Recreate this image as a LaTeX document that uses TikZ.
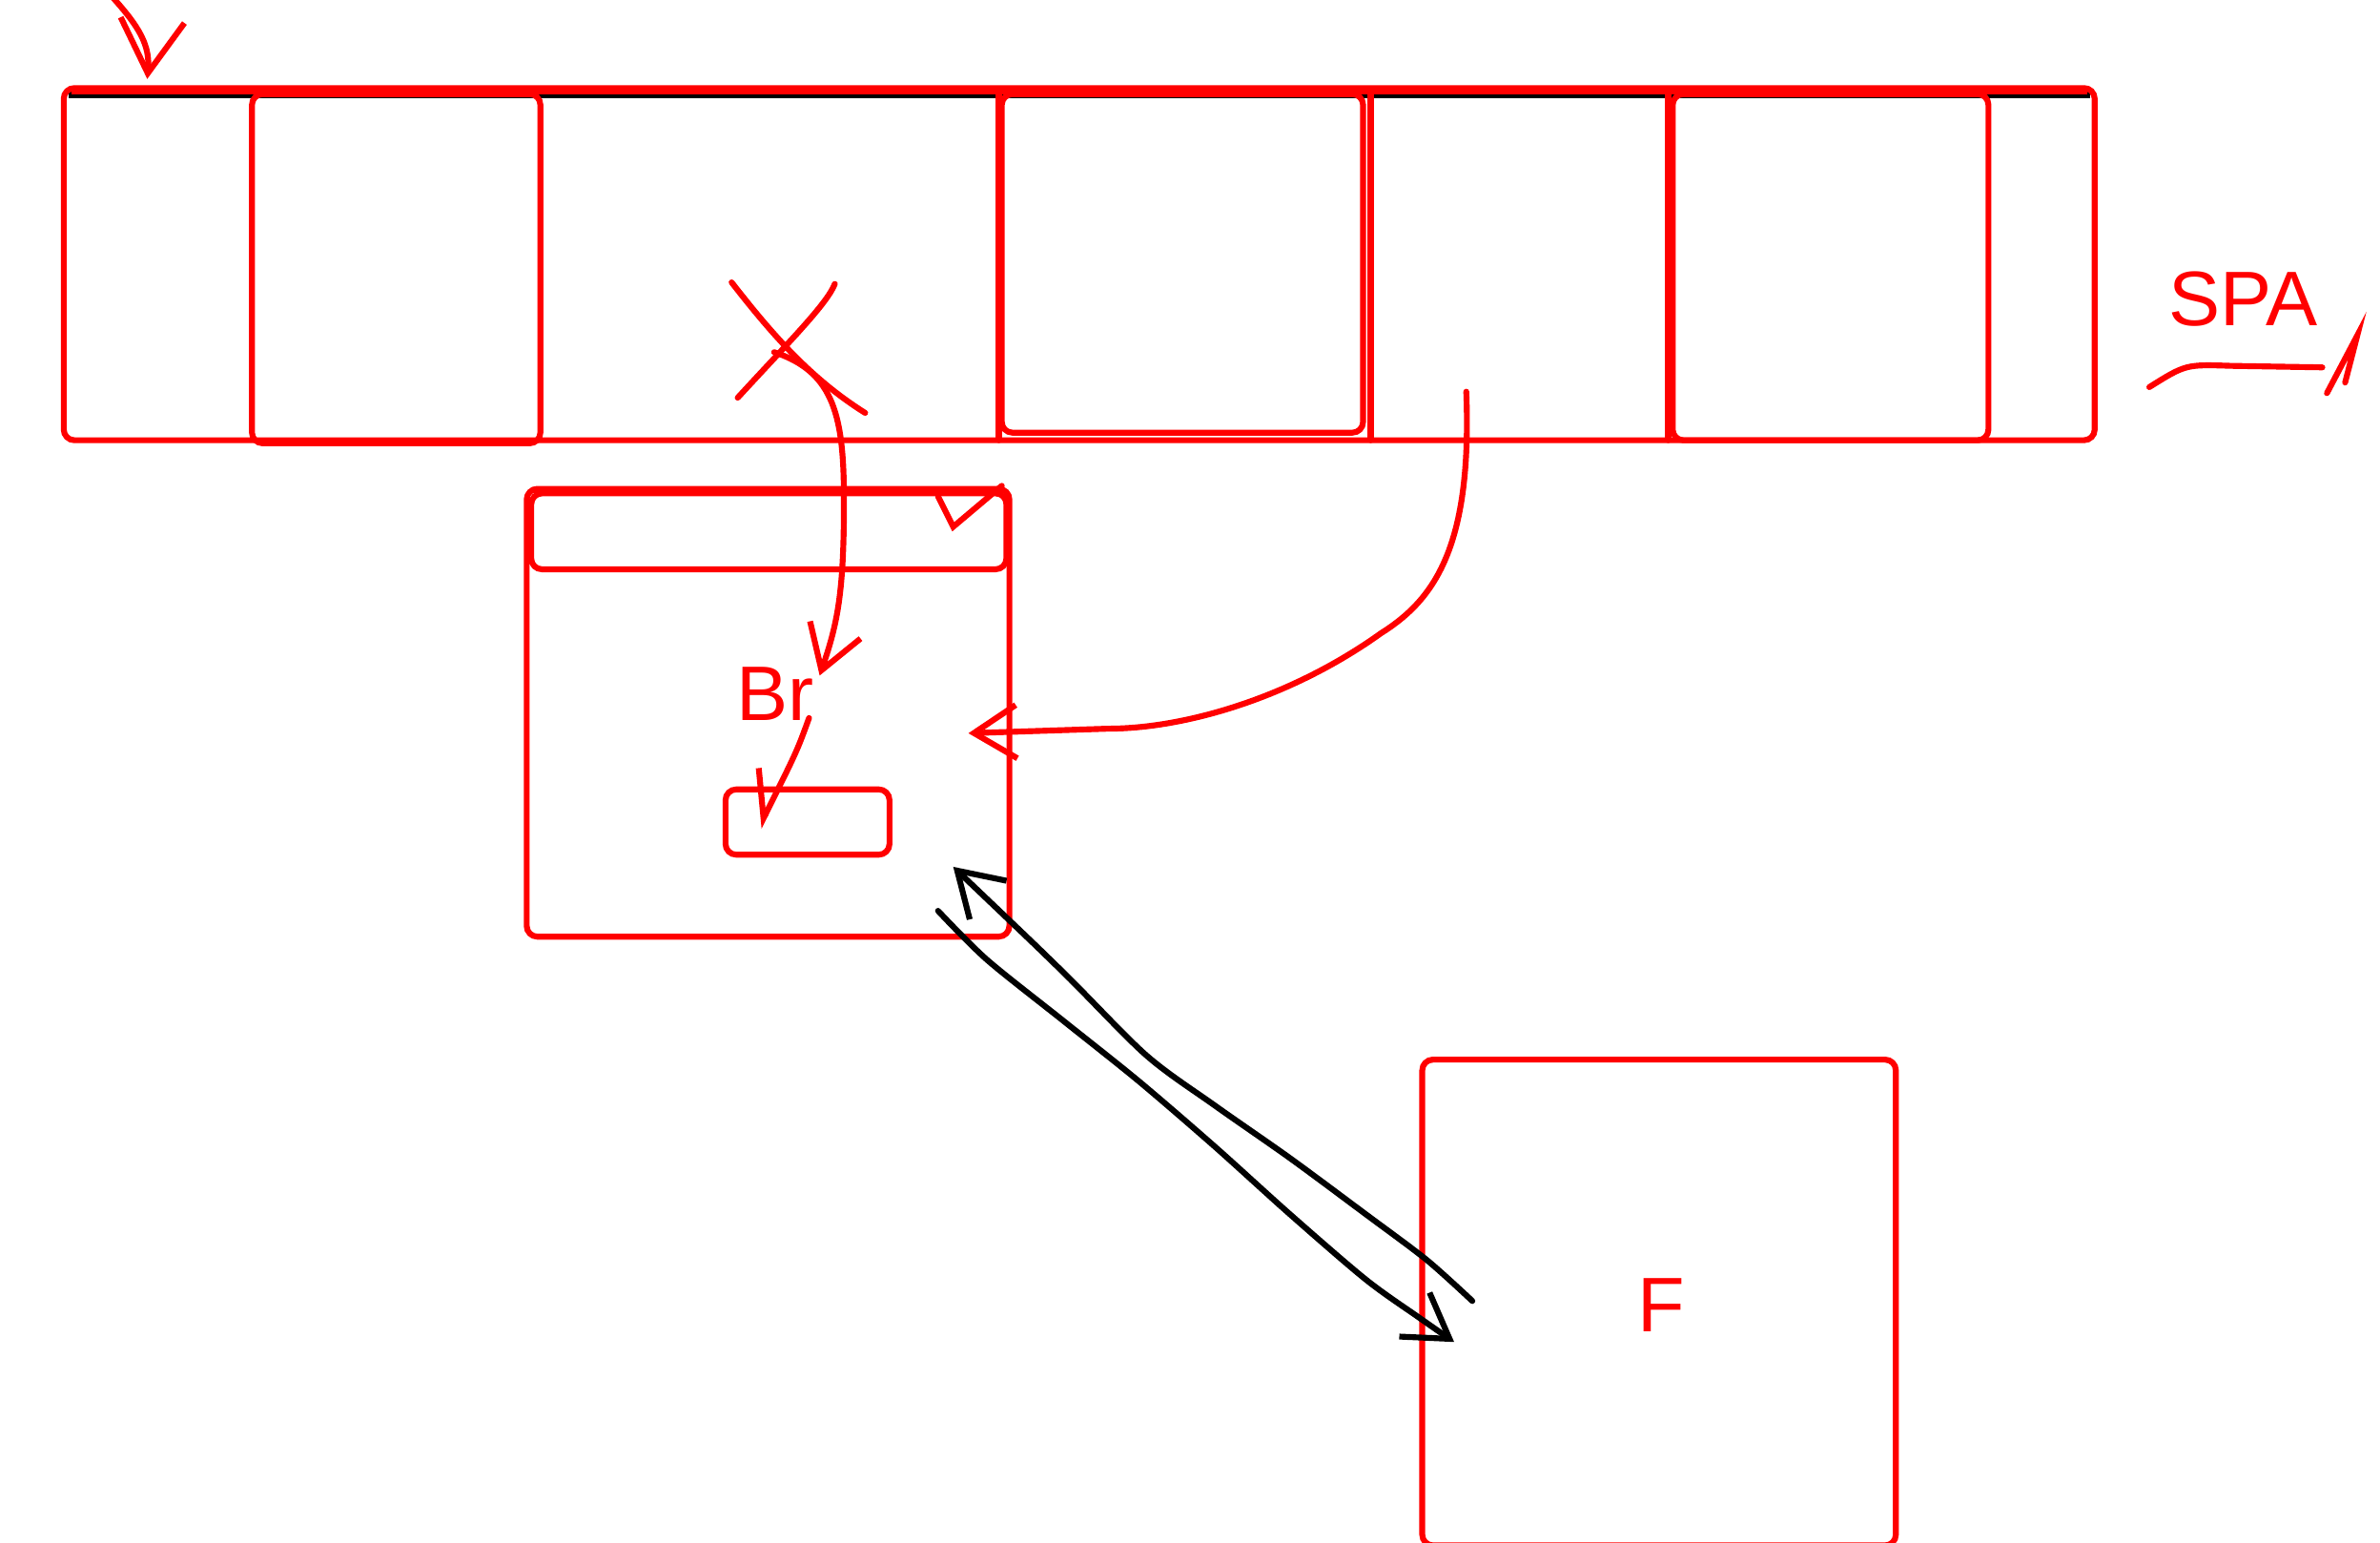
\documentclass[tikz,border=0pt]{standalone}
\usepackage{fontspec}
\setmainfont{Liberation Sans}
\usetikzlibrary{arrows.meta}

\begin{document}
\begin{tikzpicture}[>={Straight Barb[length=8pt,width=10pt]},
  cell/.style={draw=red,line width=1.1pt,rounded corners=2pt},
  redline/.style={red,line width=1.1pt,line cap=round},
  inkline/.style={black,line width=1.1pt,line cap=round},
  lbl/.style={text=red,font=\fontsize{14.5pt}{17pt}\selectfont}]
  \useasboundingbox (0,0) rectangle (15.68,-10.16);
  \draw[black,line width=1.1pt] (0.45,-0.625) -- (13.77,-0.625);
  \node[cell,minimum width=13.38cm,minimum height=2.32cm] (strip) at (7.11,-1.74) {};
  \draw[red,line width=1.6pt] (0.47,-0.595) -- (13.75,-0.595);
  \node[cell,minimum width=1.90cm,minimum height=2.30cm] (cellA) at (2.61,-1.77) {};
  \node[cell,minimum width=2.38cm,minimum height=2.23cm] (cellB) at (7.79,-1.735) {};
  \node[cell,minimum width=2.08cm,minimum height=2.28cm] (cellC) at (12.06,-1.76) {};
  \draw[redline] (6.58,-0.62) -- (6.58,-2.90);
  \draw[redline] (9.03,-0.62) -- (9.03,-2.90);
  \draw[redline] (10.99,-0.62) -- (10.99,-2.90);
  \node[cell,minimum width=3.18cm,minimum height=2.95cm] (brbox) at (5.06,-4.695) {};
  \draw[red,line width=1.8pt] (3.52,-3.235) -- (6.60,-3.235);
  \node[cell,minimum width=3.13cm,minimum height=0.50cm] (header) at (5.065,-3.50) {};
  \node[cell,minimum width=1.08cm,minimum height=0.43cm] (slot) at (5.32,-5.415) {};
  \node[cell,minimum width=3.12cm,minimum height=3.20cm] (fbox) at (10.93,-8.58) {};
  \node[lbl] (br) at (5.105,-4.57) {Br};
  \node[lbl] (f) at (10.945,-8.60) {F};
  \node[lbl] (spa) at (14.78,-1.97) {SPA};
  \coordinate (top) at (0.74,0.02);
  \coordinate (xm) at (5.10,-2.32);
  \coordinate (brtop) at (5.40,-4.45);
  \coordinate (brbot) at (5.33,-4.73);
  \coordinate (slotin) at (5.00,-5.45);
  \coordinate (cellout) at (9.66,-2.58);
  \coordinate (brin) at (6.38,-4.83);
  \coordinate (upA) at (6.28,-5.71);
  \coordinate (upB) at (9.70,-8.57);
  \coordinate (loA) at (6.18,-6.00);
  \coordinate (loB) at (9.58,-8.84);
  \draw[redline,-{Straight Barb[length=10pt,width=12pt]}] (top) .. controls (0.92,-0.18) and (0.99,-0.30) .. (0.97,-0.52);
  \draw[redline] (4.82,-1.86) .. controls (5.10,-2.22) and (5.35,-2.50) .. (5.70,-2.72);
  \draw[redline] (5.50,-1.87) .. controls (5.45,-2.00) and (5.20,-2.25) .. (4.86,-2.62);
  \draw[redline,->] (xm) .. controls (5.50,-2.45) and (5.56,-2.75) .. (5.56,-3.30)
    .. controls (5.56,-3.90) and (5.52,-4.10) .. (brtop);
  \draw[redline,-{Straight Barb[harpoon,swap,length=8pt,width=10pt]}] (brbot) .. controls (5.25,-4.95) .. (slotin);
  \draw[redline,->] (cellout) .. controls (9.70,-3.60) and (9.45,-3.95) .. (9.10,-4.17)
    .. controls (8.50,-4.60) and (7.80,-4.80) .. (7.30,-4.80) -- (brin);
  \draw[redline] (6.18,-3.27) -- (6.28,-3.47) -- (6.60,-3.20);
  \draw[inkline,<-] plot[smooth,tension=0.5] coordinates {(upA) (7.00,-6.40) (7.55,-6.95)
    (8.00,-7.28) (8.50,-7.63) (9.00,-8.00) (9.40,-8.30) (upB)};
  \draw[inkline,->] plot[smooth,tension=0.5] coordinates {(loA) (6.50,-6.32) (7.00,-6.72)
    (7.50,-7.12) (8.00,-7.55) (8.50,-8.00) (9.00,-8.43) (9.35,-8.68) (loB)};
  \draw[redline] (14.16,-2.55) .. controls (14.40,-2.40) .. (14.70,-2.41) -- (15.30,-2.42);
  \draw[redline] (15.33,-2.59) -- (15.53,-2.21) -- (15.45,-2.52);
\end{tikzpicture}
\end{document}
